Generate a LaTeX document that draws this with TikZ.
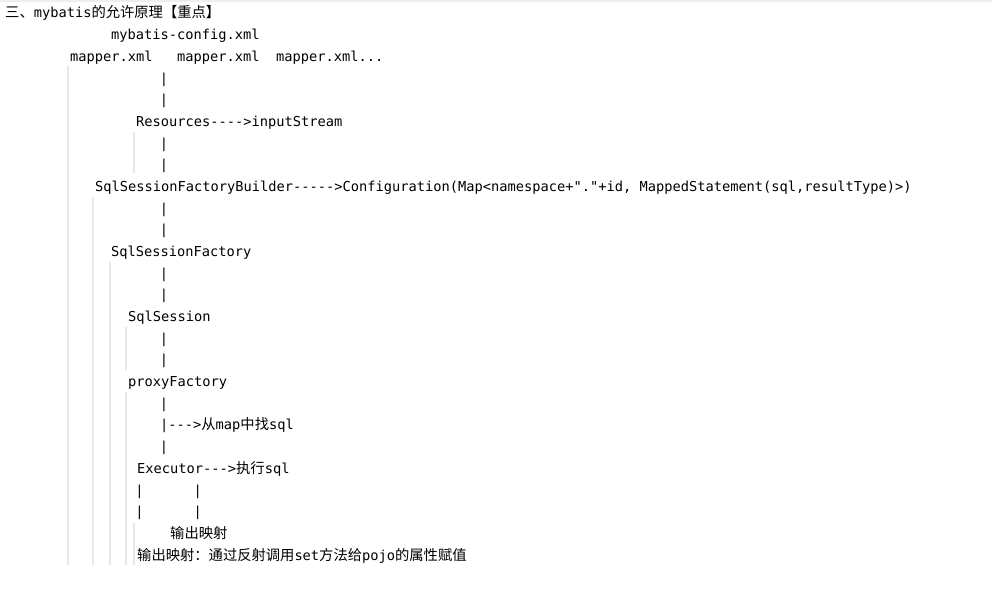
\documentclass[tikz,border=0pt]{standalone}
\usepackage{fontspec}
\setmonofont{DejaVu Sans Mono}
\newfontfamily\cjkfont{Noto Sans CJK SC}
\newcommand{\zh}[1]{{\fontsize{14.3}{16}\cjkfont #1}}
\definecolor{guidegray}{RGB}{232,232,232}
\definecolor{topgray}{RGB}{238,238,238}
\tikzset{
  code/.style={anchor=base west, inner sep=0pt, yshift=-1pt, font=\fontsize{13.7}{16}\ttfamily},
  bar/.style={code, anchor=base},
  guide/.style={draw=guidegray, line width=2pt}
}

\begin{document}
\begin{tikzpicture}[x=1pt, y=-1pt]
    \fill[white] (0,0) rectangle (992,602);
    \useasboundingbox (0,0) rectangle (992,602);
    \draw[topgray, line width=1.5pt] (0,1) -- (992,1);

    % indent guides
    \draw[guide] (68,66) -- (68,565);
    \draw[guide] (134,132) -- (134,173);
    \draw[guide] (93,197) -- (93,565);
    \draw[guide] (110,262) -- (110,565);
    \draw[guide] (126,327) -- (126,370);
    \draw[guide] (126,392) -- (126,565);
    \draw[guide] (134,523) -- (134,565);

    \node[code] at (5,17.0)     (title) {\zh{三、}mybatis\zh{的允许原理【重点】}};
    \node[code] at (111,38.7)   (config) {mybatis-config.xml};
    \node[code] at (70,60.4)    (mapa) {mapper.xml};
    \node[code] at (177,60.4)   (mapb) {mapper.xml};
    \node[code] at (276,60.4)   (mapc) {mapper.xml...};
    \node[bar]  at (164,82.0)   (p1) {|};
    \node[bar]  at (164,103.7)  (p2) {|};
    \node[code] at (136,125.4)  (res) {Resources---->inputStream};
    \node[bar]  at (164,147.1)  (p3) {|};
    \node[bar]  at (164,168.8)  (p4) {|};
    \node[code] at (95,190.4)   (builder) {SqlSessionFactoryBuilder----->Configuration(Map<namespace+"."+id, MappedStatement(sql,resultType)>)};
    \node[bar]  at (164,212.1)  (p5) {|};
    \node[bar]  at (164,233.8)  (p6) {|};
    \node[code] at (111,255.5)  (factory) {SqlSessionFactory};
    \node[bar]  at (164,277.2)  (p7) {|};
    \node[bar]  at (164,298.8)  (p8) {|};
    \node[code] at (128,320.5)  (session) {SqlSession};
    \node[bar]  at (164,342.2)  (p9) {|};
    \node[bar]  at (164,363.9)  (p10) {|};
    \node[code] at (128,385.6)  (proxy) {proxyFactory};
    \node[bar]  at (164,407.2)  (p11) {|};
    \node[code] at (160,428.9)  (find) {|--->\zh{从}map\zh{中找}sql};
    \node[bar]  at (164,450.6)  (p12) {|};
    \node[code] at (137,472.3)  (exec) {Executor--->\zh{执行}sql};
    \node[bar]  at (139.5,494.0) (p13) {|};
    \node[bar]  at (197.7,494.0) (p14) {|};
    \node[bar]  at (139.5,515.6) (p15) {|};
    \node[bar]  at (197.7,515.6) (p16) {|};
    \node[code] at (170,537.3)  (out) {\zh{输出映射}};
    \node[code] at (137,559.0)  (note) {\zh{输出映射：通过反射调用}set\zh{方法给}pojo\zh{的属性赋值}};
\end{tikzpicture}
\end{document}
